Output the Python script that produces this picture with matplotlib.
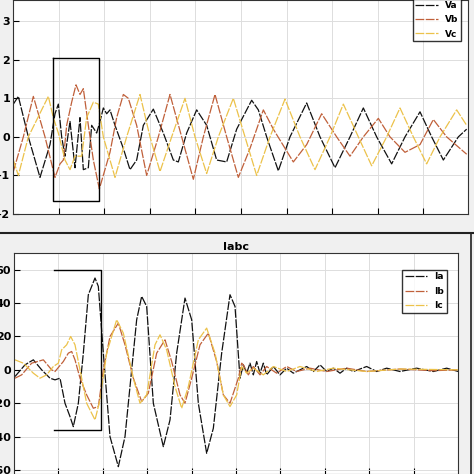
import matplotlib
matplotlib.use("Agg")
import matplotlib.pyplot as plt
from matplotlib.lines import Line2D

# ---- top panel (Vabc), x in zoom px, y values ----
va_zx = [40,55,85,120,150,165,175,185,195,210,225,240,250,265,275,290,300,310,320,330,345,370,390,410,430,460,490,520,535,560,590,620,650,680,710,755,775,800,835,870,920,960,1005,1050,1090,1130,1175,1215,1260,1295,1330,1375,1400]
va_y = [0.85,1.05,0.0,-1.05,-0.2,0.6,0.85,0.0,-0.5,0.4,-0.8,0.5,-0.85,-0.8,0.3,0.1,0.4,0.75,0.6,0.7,0.3,-0.3,-0.85,-0.6,0.3,0.72,0.1,-0.6,-0.65,0.1,0.7,0.3,-0.6,-0.65,0.2,0.95,0.7,0.0,-0.88,0.0,0.88,0.0,-0.8,0.0,0.75,0.0,-0.7,0.0,0.65,0.0,-0.6,0.0,0.2]
vb_zx = [40,70,100,135,165,180,190,200,215,228,240,250,265,280,298,330,350,370,385,410,440,475,510,545,580,610,645,680,715,750,790,820,880,920,965,1010,1050,1090,1135,1170,1215,1260,1300,1340,1400]
vb_y = [-0.9,0.0,1.05,0.0,-1.05,-0.7,-0.6,0.3,0.9,1.35,1.1,1.25,0.3,-0.6,-1.35,-0.4,0.5,1.1,1.0,0.3,-1.0,0.0,1.1,0.0,-1.1,0.0,1.1,0.0,-1.05,-0.3,0.7,0.2,-0.65,-0.2,0.6,0.0,-0.5,0.0,0.48,0.0,-0.4,-0.2,0.45,0.0,-0.45]
vc_zx = [40,55,85,145,160,175,195,210,225,245,260,280,295,310,345,380,420,450,480,515,555,585,620,655,700,735,770,810,855,900,945,990,1030,1075,1115,1160,1200,1240,1280,1320,1370,1400]
vc_y = [-0.6,-1.0,0.0,1.05,0.5,0.1,-0.6,-0.85,-0.5,-0.5,0.5,0.9,0.85,0.0,-1.05,0.0,1.1,0.0,-0.9,0.0,1.0,0.0,-0.95,0.0,1.0,0.0,-1.0,0.0,0.98,0.0,-0.85,0.0,0.85,0.0,-0.75,0.0,0.75,0.0,-0.7,0.0,0.7,0.3]

# ---- bottom panel (Iabc) ----
ia_zx = [45,75,100,125,150,165,180,185,195,210,220,235,250,265,285,295,310,330,355,375,395,410,425,440,460,490,510,530,555,575,595,620,640,665,690,705,720,730,740,750,760,770,780,790,800,820,840,860,880,900,920,940,960,980,1000,1020,1040,1060,1100,1130,1160,1200,1250,1300,1340,1375]
ia_y = [-4,3,6,0,-5,-6,-5,-10,-20,-28,-34,-20,10,45,55,50,10,-40,-58,-40,0,30,44,38,-20,-46,-30,10,43,30,-20,-50,-35,10,45,38,-5,3,-2,4,-3,5,-2,4,-3,2,-3,1,-2,0,2,-1,3,-1,1,-2,1,-1,2,-1,1,-1,1,-1,1,-1]
ib_zx = [45,65,95,130,155,165,190,205,215,225,240,260,280,295,310,330,355,375,400,425,445,470,495,515,540,555,575,600,625,650,670,690,715,725,730,745,760,780,800,830,860,890,930,980,1040,1100,1200,1300,1375]
ib_y = [-5,-3,4,6,0,-1,5,10,11,6,-5,-15,-23,-22,0,20,28,15,-5,-19,-14,10,18,5,-15,-20,-5,15,22,5,-15,-20,-5,4,3,-3,2,-3,2,-2,2,-1,1,-1,1,-1,0.5,-0.5,0]
ic_zx = [45,70,100,120,140,160,175,185,200,212,225,240,260,285,300,320,350,370,400,420,440,465,480,500,525,545,565,595,620,645,670,690,710,725,740,760,790,820,860,900,950,1000,1100,1200,1375]
ic_y = [6,4,-2,-5,-3,2,4,12,15,20,15,0,-20,-30,-18,10,30,22,-5,-20,-15,15,21,12,-10,-23,-10,18,25,10,-15,-22,-15,2,-2,1,-3,2,-1,2,-1,1,-1,0.5,0]

top_labels = ["Va", "Vb", "Vc"]
bot_labels = ["Ia", "Ib", "Ic"]
colors = ["#111111", "#c0603a", "#ecc24a"]

W = H = 474
fig = plt.figure(figsize=(4.74, 4.74), dpi=100, facecolor="#f0f0f0")

def tx_top(z):
    return [zx / 3 for zx in z]

def tx_bot(z):
    return [zx / 3 for zx in z]

ls = (0, (7, 1.2))
ax1 = fig.add_axes([13 / W, 1 - 214 / H, (468 - 13) / W, 214 / H])
ax1.set_xlim(13, 468)
ax1.set_ylim(-2, 3.55)
for zx, y, c, lab in zip([va_zx, vb_zx, vc_zx], [va_y, vb_y, vc_y], colors, top_labels):
    ax1.plot(tx_top(zx), y, color=c, lw=0.9, ls=ls, label=lab)
ax1.plot([160/3, 298/3, 298/3, 160/3, 160/3], [2.05, 2.05, -1.65, -1.65, 2.05], color="black", lw=1)

ax2 = fig.add_axes([14 / W, 0, (458 - 14) / W, 1 - 253 / H])
ax2.set_xlim(14, 458)
ax2.set_ylim(-62.4, 70)
for zx, y, c, lab in zip([ia_zx, ib_zx, ic_zx], [ia_y, ib_y, ic_y], colors, bot_labels):
    ax2.plot(tx_bot(zx), y, color=c, lw=0.9, ls=ls, label=lab)
ax2.plot([162/3, 303/3, 303/3, 162/3], [60, 60, -36, -36], color="black", lw=1)
ax2.set_title("Iabc", fontsize=8, fontweight="bold", pad=2)

for ax, step, x0 in [(ax1, 45.6, 13), (ax2, 44.4, 14)]:
    ax.set_facecolor("white")
    ax.set_xticks([x0 + step * i for i in range(1, 10)])
    ax.set_xticklabels([])
    ax.grid(True, color="#dddddd", lw=0.7)
    ax.tick_params(direction="in", length=4, labelsize=8, pad=2)
    for lab in ax.get_yticklabels():
        lab.set_fontweight("bold")
    for s in ax.spines.values():
        s.set_color("#333333")
        s.set_linewidth(0.8)
ax1.set_yticks([-2, -1, 0, 1, 2, 3])
ax2.set_yticks([-60, -40, -20, 0, 20, 40, 60])
for ax in (ax1, ax2):
    for lab in ax.get_yticklabels():
        lab.set_fontweight("bold")

leg1 = ax1.legend(loc="upper right", bbox_to_anchor=(0.995, 1.03), fontsize=6.5, frameon=True,
                  fancybox=False, edgecolor="black", handlelength=2.5, borderpad=0.3, labelspacing=0.6)
leg2 = ax2.legend(loc="upper right", bbox_to_anchor=(0.985, 0.945), fontsize=6.5, frameon=True,
                  fancybox=False, edgecolor="black", handlelength=2.5, borderpad=0.3, labelspacing=0.6)
for leg in (leg1, leg2):
    for t in leg.get_texts():
        t.set_fontweight("bold")
        t.set_ha("right")

fig.add_artist(Line2D([0, 1], [1 - 233 / H, 1 - 233 / H], color="#222222", lw=1.5))
fig.add_artist(Line2D([471 / W, 471 / W], [0, 1 - 233 / H], color="#222222", lw=1.2))

fig.savefig("out.png", dpi=100, facecolor=fig.get_facecolor())
